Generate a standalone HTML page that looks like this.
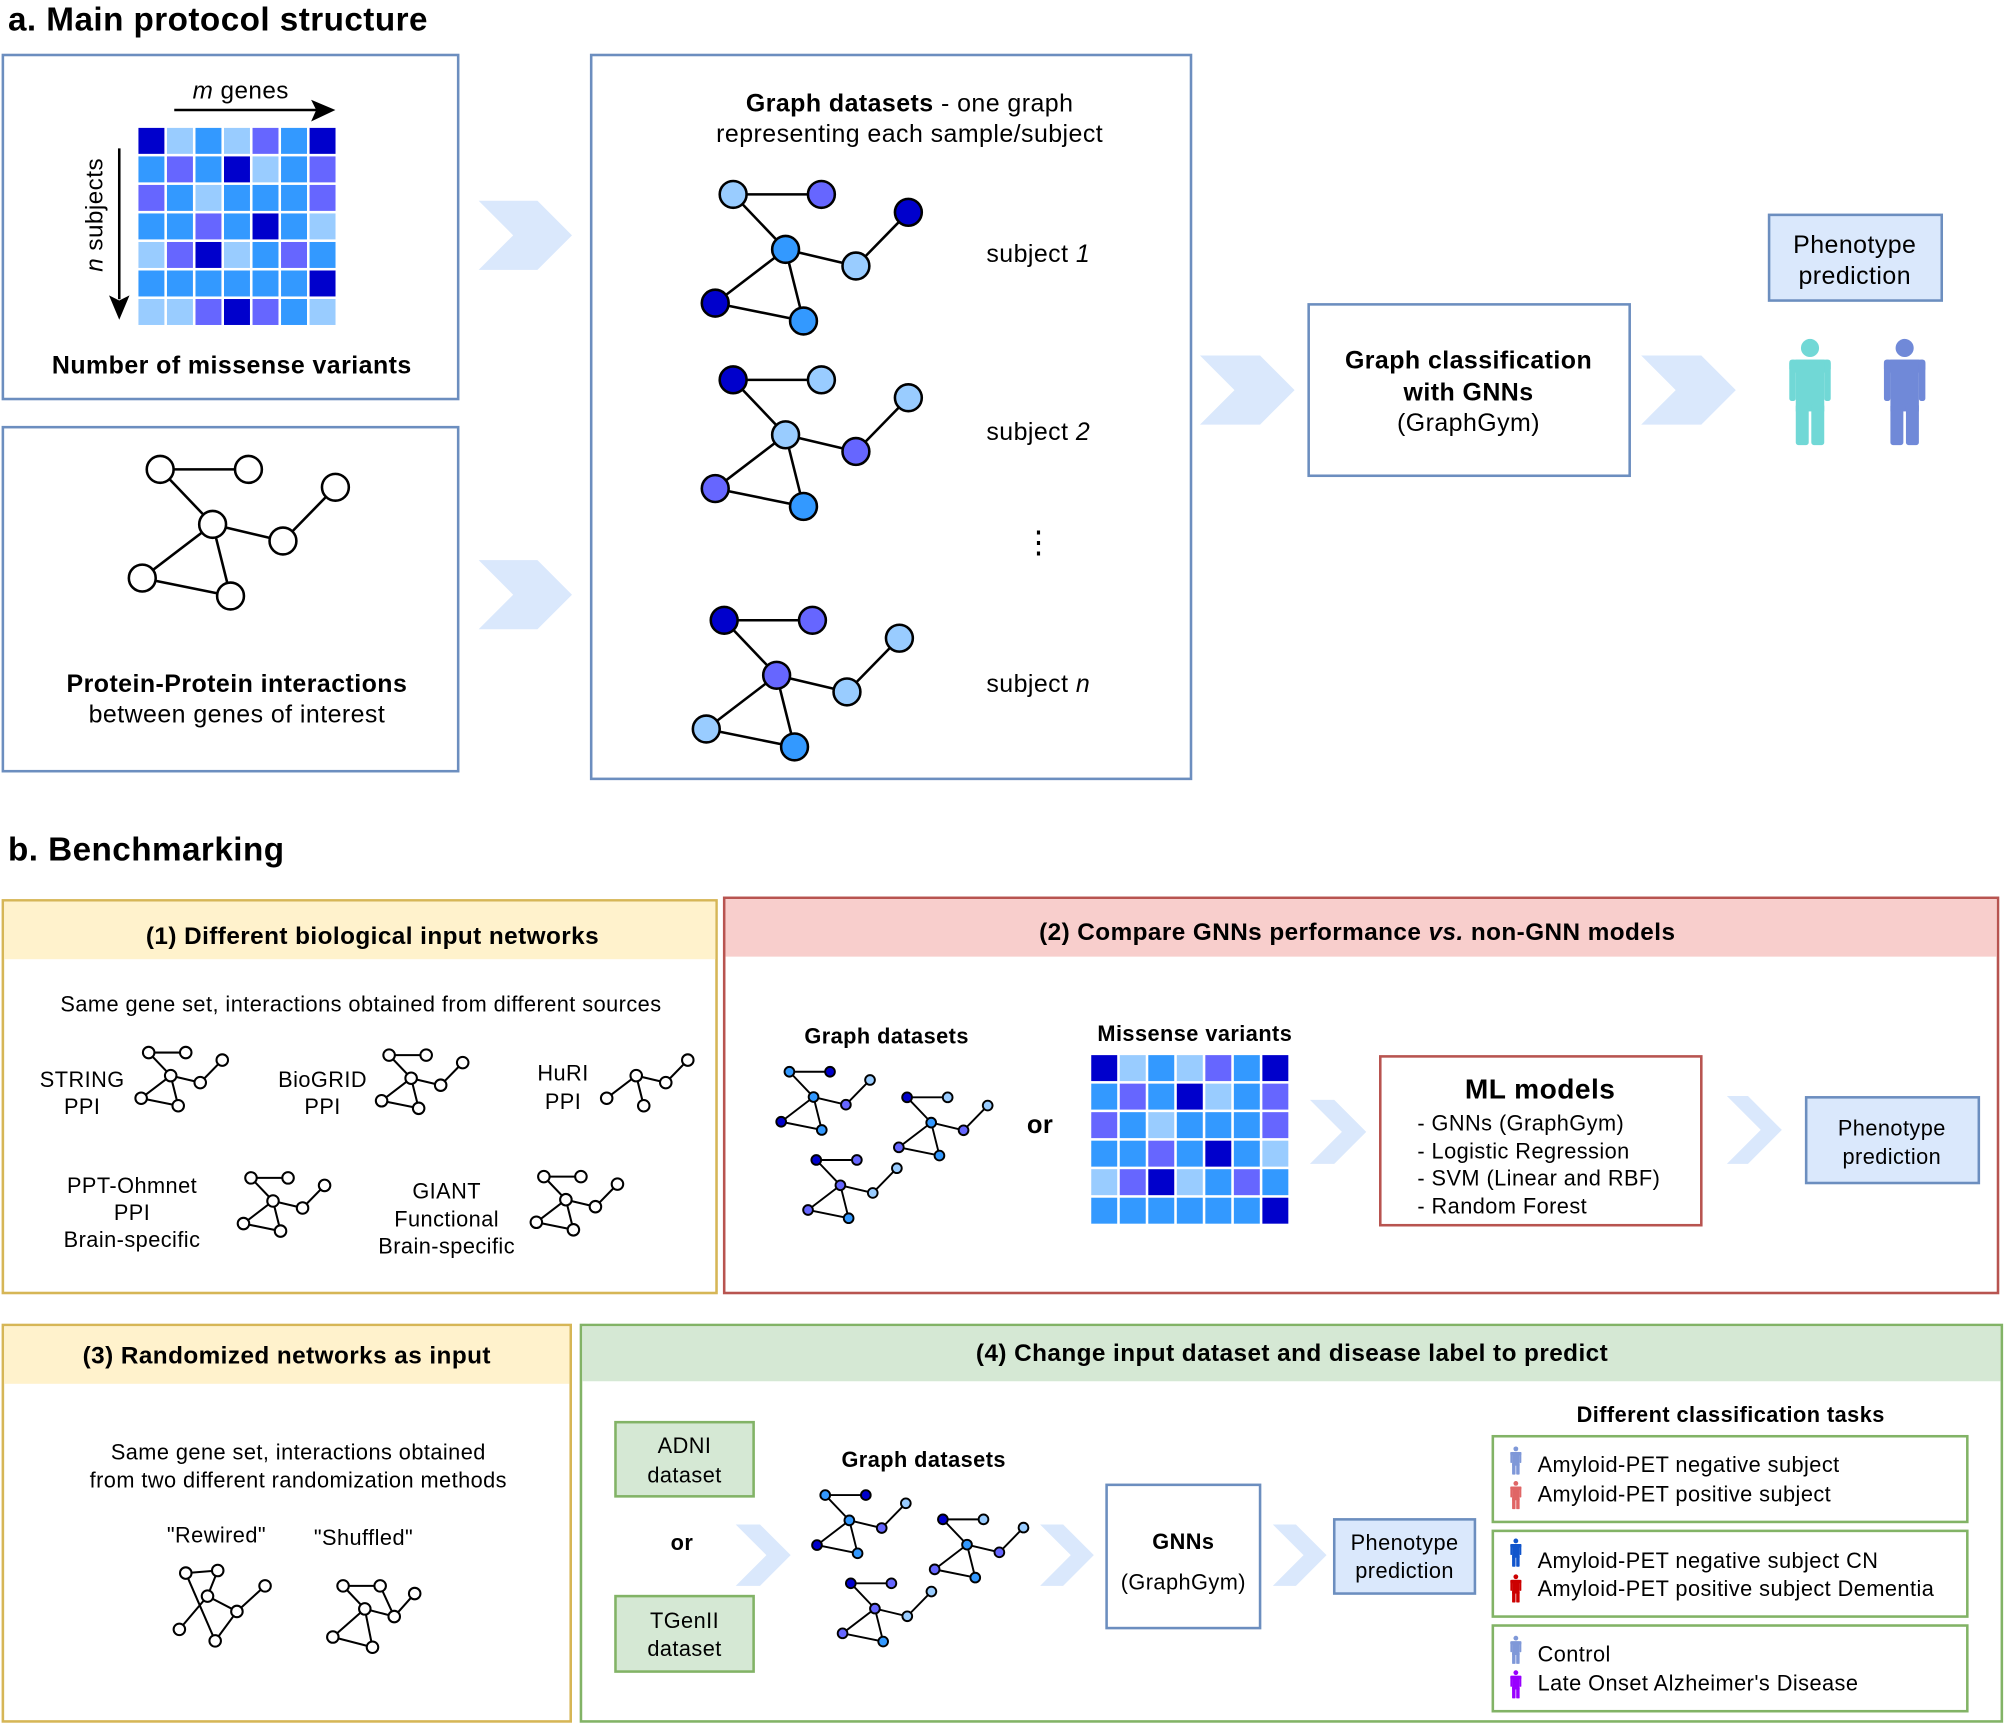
<!DOCTYPE html>
<html><head><meta charset="utf-8"><style>
html,body{margin:0;padding:0;background:#fff;}
svg{display:block;}
text{font-family:"Liberation Sans",Arial,sans-serif;fill:#000;letter-spacing:0.35px;}
.b{font-weight:bold;}
</style></head><body>
<svg id="s" width="2006" height="1724" viewBox="0 0 1568 1348" xmlns="http://www.w3.org/2000/svg">
<rect width="1568" height="1348" fill="#fff"/>
<g id="shapes"></g>
<text x="6" y="24" font-size="26" class="b">a. Main protocol structure</text>
<text x="6" y="673" font-size="26" class="b">b. Benchmarking</text>

<rect x="2" y="43" width="356" height="269" fill="none" stroke="#6c8ebf" stroke-width="2"/>
<rect x="2" y="334" width="356" height="269" fill="none" stroke="#6c8ebf" stroke-width="2"/>
<rect x="462" y="43" width="469" height="566" fill="none" stroke="#6c8ebf" stroke-width="2"/>
<rect x="1023" y="238" width="251" height="134" fill="none" stroke="#6c8ebf" stroke-width="2"/>
<rect x="1383" y="168" width="135" height="67" fill="#dae8fc" stroke="#6c8ebf" stroke-width="2"/>

<text x="188" y="77" font-size="19" text-anchor="middle"><tspan font-style="italic">m</tspan> genes</text>
<line x1="136" y1="86" x2="248" y2="86" stroke="#000" stroke-width="2"/>
<polygon points="262,86 243,78 247,86 243,95" fill="#000"/>
<text transform="translate(80,168) rotate(-90)" font-size="19" text-anchor="middle"><tspan font-style="italic">n</tspan> subjects</text>
<line x1="93" y1="116" x2="93" y2="234" stroke="#000" stroke-width="2"/>
<polygon points="93,250 85,231 93,235 101,231" fill="#000"/>
<text x="181" y="292" font-size="19.5" class="b" text-anchor="middle">Number of missense variants</text>
<text x="185" y="541" font-size="19.5" class="b" text-anchor="middle">Protein-Protein interactions</text>
<text x="185" y="565" font-size="19.5" text-anchor="middle">between genes of interest</text>

<text x="711" y="87" font-size="19.5" text-anchor="middle"><tspan class="b">Graph datasets</tspan> - one graph</text>
<text x="711" y="111" font-size="19.5" text-anchor="middle">representing each sample/subject</text>
<text x="771" y="205" font-size="19.5">subject <tspan font-style="italic">1</tspan></text>
<text x="771" y="344" font-size="19.5">subject <tspan font-style="italic">2</tspan></text>
<text x="812" y="432" font-size="24" text-anchor="middle">⋮</text>
<text x="771" y="541" font-size="19.5">subject <tspan font-style="italic">n</tspan></text>

<text x="1148" y="288" font-size="19.5" class="b" text-anchor="middle">Graph classification</text>
<text x="1148" y="313" font-size="19.5" class="b" text-anchor="middle">with GNNs</text>
<text x="1148" y="337" font-size="19.5" text-anchor="middle">(GraphGym)</text>
<text x="1450" y="198" font-size="19.5" text-anchor="middle">Phenotype</text>
<text x="1450" y="222" font-size="19.5" text-anchor="middle">prediction</text>

<rect x="2" y="704" width="558" height="307" fill="none" stroke="#d6b656" stroke-width="2"/>
<rect x="3" y="705" width="556" height="45" fill="#fff2cc"/>
<rect x="566" y="702" width="996" height="309" fill="none" stroke="#b85450" stroke-width="2"/>
<rect x="567" y="703" width="994" height="45" fill="#f8cecc"/>
<rect x="1079" y="826" width="251" height="132" fill="none" stroke="#b85450" stroke-width="2"/>
<rect x="1412" y="858" width="135" height="67" fill="#dae8fc" stroke="#6c8ebf" stroke-width="2"/>
<rect x="2" y="1036" width="444" height="310" fill="none" stroke="#d6b656" stroke-width="2"/>
<rect x="3" y="1037" width="442" height="45" fill="#fff2cc"/>
<rect x="454" y="1036" width="1111" height="310" fill="none" stroke="#82b366" stroke-width="2"/>
<rect x="455" y="1037" width="1109" height="43" fill="#d5e8d4"/>
<rect x="481" y="1112" width="108" height="58" fill="#d5e8d4" stroke="#82b366" stroke-width="2"/>
<rect x="481" y="1248" width="108" height="59" fill="#d5e8d4" stroke="#82b366" stroke-width="2"/>
<rect x="865" y="1161" width="120" height="112" fill="none" stroke="#6c8ebf" stroke-width="2"/>
<rect x="1043" y="1188" width="110" height="58" fill="#dae8fc" stroke="#6c8ebf" stroke-width="2"/>
<rect x="1167" y="1123" width="371" height="67" fill="none" stroke="#82b366" stroke-width="2"/>
<rect x="1167" y="1197" width="371" height="67" fill="none" stroke="#82b366" stroke-width="2"/>
<rect x="1167" y="1271" width="371" height="67" fill="none" stroke="#82b366" stroke-width="2"/>

<text x="291" y="738" font-size="19" class="b" text-anchor="middle">(1) Different biological input networks</text>
<text x="282" y="791" font-size="17" text-anchor="middle">Same gene set, interactions obtained from different sources</text>
<text x="64" y="850" font-size="17" text-anchor="middle">STRING</text>
<text x="64" y="871" font-size="17" text-anchor="middle">PPI</text>
<text x="252" y="850" font-size="17" text-anchor="middle">BioGRID</text>
<text x="252" y="871" font-size="17" text-anchor="middle">PPI</text>
<text x="440" y="845" font-size="17" text-anchor="middle">HuRI</text>
<text x="440" y="867" font-size="17" text-anchor="middle">PPI</text>
<text x="103" y="933" font-size="17" text-anchor="middle">PPT-Ohmnet</text>
<text x="103" y="954" font-size="17" text-anchor="middle">PPI</text>
<text x="103" y="975" font-size="17" text-anchor="middle">Brain-specific</text>
<text x="349" y="937" font-size="17" text-anchor="middle">GIANT</text>
<text x="349" y="959" font-size="17" text-anchor="middle">Functional</text>
<text x="349" y="980" font-size="17" text-anchor="middle">Brain-specific</text>

<text x="1061" y="735" font-size="19" class="b" text-anchor="middle">(2) Compare GNNs performance <tspan font-style="italic">vs.</tspan> non-GNN models</text>
<text x="693" y="816" font-size="17" class="b" text-anchor="middle">Graph datasets</text>
<text x="934" y="814" font-size="17" class="b" text-anchor="middle">Missense variants</text>
<text x="813" y="886" font-size="20" class="b" text-anchor="middle">or</text>
<text x="1204" y="859" font-size="22" class="b" text-anchor="middle">ML models</text>
<text x="1108" y="884" font-size="17">- GNNs (GraphGym)</text>
<text x="1108" y="906" font-size="17">- Logistic Regression</text>
<text x="1108" y="927" font-size="17">- SVM (Linear and RBF)</text>
<text x="1108" y="949" font-size="17">- Random Forest</text>
<text x="1479" y="888" font-size="17" text-anchor="middle">Phenotype</text>
<text x="1479" y="910" font-size="17" text-anchor="middle">prediction</text>

<text x="224" y="1066" font-size="19" class="b" text-anchor="middle">(3) Randomized networks as input</text>
<text x="233" y="1141" font-size="17" text-anchor="middle">Same gene set, interactions obtained</text>
<text x="233" y="1163" font-size="17" text-anchor="middle">from two different randomization methods</text>
<text x="169" y="1206" font-size="17" text-anchor="middle">"Rewired"</text>
<text x="284" y="1208" font-size="17" text-anchor="middle">"Shuffled"</text>

<text x="1010" y="1064" font-size="19" class="b" text-anchor="middle">(4) Change input dataset and disease label to predict</text>
<text x="535" y="1136" font-size="17" text-anchor="middle">ADNI</text>
<text x="535" y="1159" font-size="17" text-anchor="middle">dataset</text>
<text x="533" y="1212" font-size="17" class="b" text-anchor="middle">or</text>
<text x="535" y="1273" font-size="17" text-anchor="middle">TGenII</text>
<text x="535" y="1295" font-size="17" text-anchor="middle">dataset</text>
<text x="722" y="1147" font-size="17" class="b" text-anchor="middle">Graph datasets</text>
<text x="925" y="1211" font-size="17" class="b" text-anchor="middle">GNNs</text>
<text x="925" y="1243" font-size="17" text-anchor="middle">(GraphGym)</text>
<text x="1098" y="1212" font-size="17" text-anchor="middle">Phenotype</text>
<text x="1098" y="1234" font-size="17" text-anchor="middle">prediction</text>
<text x="1353" y="1112" font-size="17" class="b" text-anchor="middle">Different classification tasks</text>
<text x="1202" y="1151" font-size="17">Amyloid-PET negative subject</text>
<text x="1202" y="1174" font-size="17">Amyloid-PET positive subject</text>
<text x="1202" y="1226" font-size="17">Amyloid-PET negative subject CN</text>
<text x="1202" y="1248" font-size="17">Amyloid-PET positive subject Dementia</text>
<text x="1202" y="1299" font-size="17">Control</text>
<text x="1202" y="1322" font-size="17">Late Onset Alzheimer's Disease</text>
</svg>
<script>
const NS="http://www.w3.org/2000/svg";
const g=document.getElementById("shapes");
function el(t,a){const e=document.createElementNS(NS,t);for(const k in a)e.setAttribute(k,a[k]);g.appendChild(e);return e;}
const C={D:"#0000cc",L:"#99ccff",M:"#3399ff",P:"#6666ff",W:"#ffffff"};
function matrix(x,y,rows,cs){rows.forEach((r,i)=>r.split("").forEach((c,j)=>el("rect",{x:x+j*cs,y:y+i*cs,width:cs-2,height:cs-2,fill:C[c]})));}
const M7=["DLMLPMD","MPMDLMP","PMLMMMP","MMPMDML","LPDLMPM","MMMMMMD","LLPDPML"];
matrix(108,100,M7,22.3);
matrix(853,825,M7.slice(0,6),22.3);
function chev(x1,y1,x2,y2){const h=y2-y1,d=h/2;el("polygon",{points:`${x1},${y1} ${x2-d},${y1} ${x2},${y1+d} ${x2-d},${y2} ${x1},${y2} ${x1+d},${y1+d}`,fill:"#dae8fc"});}
chev(374,157,447,211);chev(374,438,447,492);chev(938,278,1012,332);chev(1283,278,1357,332);
chev(1024,860,1068,910);chev(1350,857,1393,910);chev(575,1192,618,1240);chev(813,1192,855,1240);chev(995,1192,1037,1240);
const OFF=[[0,0],[69,0],[137,14],[41,43],[96,56],[-14,85],[55,99]];
const E=[[0,1],[0,3],[3,4],[4,2],[3,5],[3,6],[5,6]];
function graph(x,y,s,cols,r,sw,edges,off){off=off||OFF;edges=edges||E;
 const p=off.map(o=>[x+o[0]*s,y+o[1]*s]);
 edges.forEach(e=>el("line",{x1:p[e[0]][0],y1:p[e[0]][1],x2:p[e[1]][0],y2:p[e[1]][1],stroke:"#000","stroke-width":sw}));
 p.forEach((q,i)=>{if(cols[i]!=="-")el("circle",{cx:q[0],cy:q[1],r:r,fill:C[cols[i]],stroke:"#000","stroke-width":sw});});}
graph(125,367,1,"WWWWWWW",10.5,2);
graph(573,152,1,"LPDMLDM",10.5,2);
graph(573,297,1,"DLLLPPM",10.5,2);
graph(566,485,1,"DPLPLLM",10.5,2);
const s=0.42;
graph(116,823,s,"WWWWWWW",4.5,1.6);
graph(304,825,s,"WWWWWWW",4.5,1.6);
graph(480,823,s,"--WWWWW",4.5,1.6,[[3,4],[4,2],[3,5],[3,6]]);
graph(196,921,s,"WWWWWWW",4.5,1.6);
graph(425,920,s,"WWWWWWW",4.5,1.6);
graph(617,838,0.46,"MDLMPDM",3.8,1.5);
graph(709,858,0.46,"DLLMPPM",3.8,1.5);
graph(638,907,0.46,"DPLPLPM",3.8,1.5);
graph(645,1169,0.46,"MDLMPDM",3.8,1.5);
graph(737,1188,0.46,"DLLMPPM",3.8,1.5);
graph(665,1238,0.46,"DPLPLPM",3.8,1.5);
graph(145,1230,1,"WWWWWWW",4.5,1.6,[[0,1],[0,6],[1,3],[3,4],[4,2],[3,5],[4,6]],[[0,0],[25,-2],[62,10],[17,18],[40,30],[-5,44],[23,53]]);
graph(268,1240,1,"WWWWWWW",4.5,1.6,[[0,1],[0,3],[3,4],[4,2],[3,5],[3,6],[5,6],[1,4]],[[0,0],[29,0],[56,6],[17,18],[40,24],[-8,40],[23,48]]);
function person(cx,top,h,col){const k=h/82;
 el("circle",{cx:cx,cy:top+7*k,r:7*k,fill:col});
 el("rect",{x:cx-16*k,y:top+16*k,width:32*k,height:10*k,rx:3*k,fill:col});
 el("rect",{x:cx-16*k,y:top+16*k,width:5*k,height:32*k,rx:2*k,fill:col});
 el("rect",{x:cx+11*k,y:top+16*k,width:5*k,height:32*k,rx:2*k,fill:col});
 el("rect",{x:cx-11*k,y:top+16*k,width:22*k,height:40*k,fill:col});
 el("rect",{x:cx-11*k,y:top+50*k,width:10*k,height:32*k,rx:2*k,fill:col});
 el("rect",{x:cx+1*k,y:top+50*k,width:10*k,height:32*k,rx:2*k,fill:col});}
person(1415,265,83,"#71d8d6");person(1489,265,83,"#7089d8");
person(1185,1131,22,"#7f98d8");person(1185,1158,22,"#e06666");
person(1185,1203,22,"#1155cc");person(1185,1231,22,"#cc0000");
person(1185,1279,22,"#7f98d8");person(1185,1306,22,"#9900ff");
</script>
</body></html>
